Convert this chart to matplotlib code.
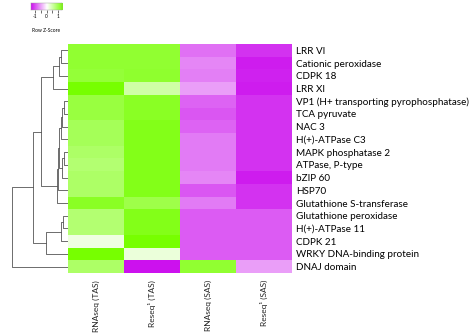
import numpy as np
import matplotlib
matplotlib.use("Agg")
import matplotlib.pyplot as plt
from matplotlib.colors import LinearSegmentedColormap

plt.rcParams['font.family'] = ['Lato', 'DejaVu Sans']

genes = ['LRR VI', 'Cationic peroxidase', 'CDPK 18', 'LRR XI',
         'VP1 (H+ transporting pyrophosphatase)', 'TCA pyruvate', 'NAC 3',
         'H(+)-ATPase C3', 'MAPK phosphatase 2', 'ATPase, P-type', 'bZIP 60',
         'HSP70', 'Glutathione S-transferase', 'Glutathione peroxidase',
         'H(+)-ATPase 11', 'CDPK 21', 'WRKY DNA-binding protein', 'DNAJ domain']
samples = ['RNAseq (TAS)', 'Reseq\u00b9 (TAS)', 'RNAseq (SAS)', 'Reseq\u00b9 (SAS)']

# row z-scores
zscores = [
    [1.08, 1.08, -0.81, -1.15],
    [1.08, 1.08, -0.68, -1.28],
    [1.05, 1.10, -0.72, -1.25],
    [1.35, 0.47, -0.54, -1.28],
    [1.01, 1.15, -0.88, -1.15],
    [1.01, 1.15, -0.95, -1.15],
    [0.88, 1.22, -0.88, -1.15],
    [0.88, 1.22, -0.74, -1.15],
    [0.81, 1.22, -0.74, -1.15],
    [0.74, 1.22, -0.74, -1.15],
    [0.81, 1.22, -0.68, -1.28],
    [0.81, 1.22, -0.95, -1.15],
    [1.15, 0.95, -0.74, -1.15],
    [0.74, 1.22, -0.92, -0.92],
    [0.74, 1.22, -0.92, -0.92],
    [0.16, 1.35, -0.92, -0.92],
    [1.35, 0.20, -0.92, -0.92],
    [0.81, -1.35, 1.08, -0.54],
]

# row dendrogram merges: (left, right, height); ids >= 18 refer to earlier merges
n_rows = len(genes)
merges = [
    (4, 5, 4), (18, 6, 6), (19, 7, 7.5),      # 18, 19, 20
    (8, 9, 4.5), (21, 10, 6),                 # 21, 22
    (20, 22, 9), (23, 11, 10), (24, 12, 11),  # 23, 24, 25
    (0, 1, 7), (26, 2, 9), (27, 3, 15),       # 26, 27, 28
    (28, 25, 27),                             # 29
    (13, 14, 5), (30, 15, 7), (31, 16, 22),   # 30, 31, 32
    (29, 32, 35), (33, 17, 56),               # 33, 34
]

W, H = 474, 335
fig = plt.figure(figsize=(W / 100, H / 100), dpi=100)

cmap = LinearSegmentedColormap.from_list('mwg', ['#CC11EE', '#FFFFFF', '#77FF00'])
vmin, vmax = -1.35, 1.35

def fax(x0, y0, x1, y1):
    return fig.add_axes([x0 / W, 1 - y1 / H, (x1 - x0) / W, (y1 - y0) / H])

# heatmap
ax = fax(68, 44, 292, 273)
ax.imshow(np.array(zscores), cmap=cmap, vmin=vmin, vmax=vmax,
          aspect='auto', interpolation='nearest')
ax.set_yticks(range(n_rows))
ax.set_yticklabels(genes, fontsize=7.1)
ax.yaxis.tick_right()
ax.set_xticks(range(len(samples)))
ax.set_xticklabels(samples, rotation=90, fontsize=6.0, color='#222222')
ax.tick_params(axis='y', length=0, pad=3)
ax.tick_params(axis='x', length=0, pad=5)
for s in ax.spines.values():
    s.set_visible(False)

# dendrogram
dax = fax(0, 44, 68, 273)
pos = {i: (i, 0.0) for i in range(n_rows)}
for k, (a, b, h) in enumerate(merges):
    ya, ha = pos[a]
    yb, hb = pos[b]
    dax.plot([ha, h, h, hb], [ya, ya, yb, yb], color='#555555', lw=0.6)
    pos[n_rows + k] = ((ya + yb) / 2, h)
dax.set_xlim(68, 0)
dax.set_ylim(n_rows - 0.5, -0.5)
dax.axis('off')

# colour key
kax = fax(31, 3, 62, 10)
grad = np.linspace(vmin, vmax, 200)[None, :]
kax.imshow(grad, cmap=cmap, vmin=vmin, vmax=vmax, aspect='auto',
           extent=[vmin, vmax, 0, 1])
kax.set_yticks([])
kax.set_xticks([-1, -0.5, 0, 0.5, 1])
kax.set_xticklabels(['-1', '', '0', '', '1'], fontsize=3.5)
kax.tick_params(axis='x', length=2, width=0.4, pad=1)
for s in kax.spines.values():
    s.set_linewidth(0.3)
    s.set_color('#999999')
fig.text(46 / W, 1 - 31 / H, 'Row Z-Score', fontsize=3.5, ha='center', va='center')

fig.savefig('out.png', dpi=100)
